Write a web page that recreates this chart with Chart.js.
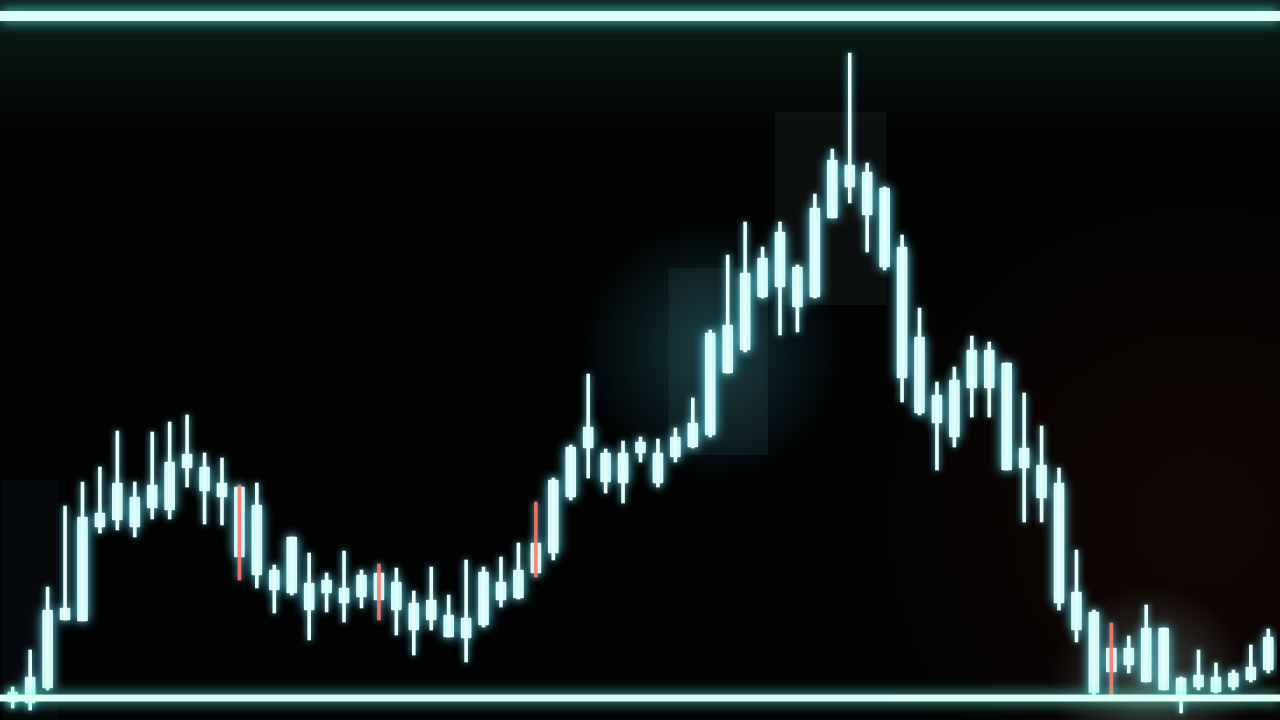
<!DOCTYPE html>
<html>
<head>
<meta charset="utf-8">
<script src="https://cdn.jsdelivr.net/npm/chart.js@4.4.1/dist/chart.umd.min.js"></script>
<style>
    html, body { margin: 0; padding: 0; background: #020303; overflow: hidden; }
    #wrap { width: 1280px; height: 720px; }
</style>
</head>
<body>
<div id="wrap"><canvas id="candles" width="1280" height="720"></canvas></div>
<script>
// Candle values (price units, bottom of frame = 0)
const open  = [18, 17, 32, 112, 99, 193, 200, 223, 212, 210, 252, 253, 237, 233, 215, 150, 127, 137, 127, 132,
               123, 147, 138, 117, 100, 105, 82, 95, 138, 122, 147, 167, 223, 272, 267, 237, 267, 267, 263,
               273, 285, 347, 370, 423, 433, 453, 423, 502, 555, 548, 532, 473, 383, 325, 283, 332, 370, 357, 272,
               255, 237, 128, 108, 48, 72, 38, 92, 25, 33, 43, 33, 40, 50];
const close = [28, 43, 110, 100, 203, 207, 237, 193, 235, 258, 266, 229, 223, 163, 145, 130, 183, 110, 140, 117,
               145, 120, 110, 90, 120, 83, 102, 148, 120, 150, 177, 240, 273, 293, 238, 267, 278, 237, 283,
               297, 387, 395, 447, 462, 488, 413, 512, 560, 533, 505, 453, 342, 307, 297, 340, 370, 332, 250, 252,
               222, 117, 90, 27, 72, 55, 92, 30, 42, 45, 28, 47, 53, 83];
const high  = [33, 70, 133, 214, 238, 253, 289, 238, 288, 298, 305, 267, 262, 235, 237, 155, 183, 167, 147, 169,
               150, 156, 152, 129, 153, 125, 160, 153, 163, 177, 218, 242, 275, 346, 271, 279, 283, 281, 292,
               322, 390, 465, 498, 473, 498, 455, 526, 571, 667, 557, 533, 485, 412, 338, 353, 384, 378, 357, 327,
               294, 252, 170, 110, 97, 84, 115, 92, 43, 70, 57, 50, 75, 91];
const low   = [12, 10, 30, 100, 99, 187, 190, 183, 201, 201, 233, 196, 195, 140, 132, 107, 125, 80, 108, 98,
               112, 100, 85, 65, 90, 83, 58, 93, 113, 121, 143, 160, 220, 242, 227, 217, 258, 233, 258,
               272, 283, 347, 368, 422, 385, 388, 422, 502, 517, 468, 450, 318, 305, 250, 273, 303, 303, 250, 198,
               198, 110, 78, 25, 25, 47, 38, 30, 7, 30, 27, 30, 38, 47];
const labels = open.map((_, i) => String(i + 1));

// Candles with a red fringe in the picture
const redTinted = [13, 21, 30, 63];

// Glowing rails at top and bottom
const railLevels = [704, 22];
const railWidths = [10, 7];

// Faint highlight boxes (category range, price range)
const boxes = [
    { from: -0.6, to: 2.6, low: 0, high: 240, color: 'rgba(90, 140, 170, 0.05)' },
    { from: 37.6, to: 43.3, low: 265, high: 452, color: 'rgba(120, 190, 200, 0.08)' },
    { from: 43.7, to: 50.1, low: 415, high: 608, color: 'rgba(150, 190, 180, 0.07)' }
];

const bodyColor = '#f2fffc';
const wickColor = '#e6fdf8';

const glowPlugin = {
    id: 'glow',
    beforeDraw(chart) {
        const ctx = chart.ctx;
        const w = chart.width, h = chart.height;
        ctx.save();
        ctx.fillStyle = '#020303';
        ctx.fillRect(0, 0, w, h);

        // greenish haze under the top rail
        let g = ctx.createLinearGradient(0, 0, 0, 130);
        g.addColorStop(0, 'rgba(20, 60, 45, 0.5)');
        g.addColorStop(1, 'rgba(20, 60, 45, 0)');
        ctx.fillStyle = g;
        ctx.fillRect(0, 0, w, 130);

        // faint warm haze bottom right
        g = ctx.createRadialGradient(1200, 520, 20, 1200, 520, 360);
        g.addColorStop(0, 'rgba(30, 10, 4, 0.55)');
        g.addColorStop(1, 'rgba(30, 10, 4, 0)');
        ctx.fillStyle = g;
        ctx.fillRect(0, 0, w, h);

        // cyan haze behind the rally
        g = ctx.createRadialGradient(712, 350, 10, 712, 350, 130);
        g.addColorStop(0, 'rgba(50, 150, 170, 0.3)');
        g.addColorStop(1, 'rgba(50, 150, 170, 0)');
        ctx.fillStyle = g;
        ctx.fillRect(0, 0, w, h);

        // white haze at the bottom right cluster
        g = ctx.createRadialGradient(1150, 685, 5, 1150, 685, 100);
        g.addColorStop(0, 'rgba(200, 255, 245, 0.24)');
        g.addColorStop(1, 'rgba(200, 255, 245, 0)');
        ctx.fillStyle = g;
        ctx.fillRect(0, 0, w, h);

        const x = chart.scales.x, y = chart.scales.y;
        boxes.forEach(b => {
            const x0 = x.getPixelForValue(b.from), x1 = x.getPixelForValue(b.to);
            const y0 = y.getPixelForValue(b.high), y1 = y.getPixelForValue(b.low);
            ctx.fillStyle = b.color;
            ctx.fillRect(x0, y0, x1 - x0, y1 - y0);
        });
        ctx.restore();
    },
    beforeDatasetDraw(chart, args) {
        const ctx = chart.ctx;
        ctx.save();
        ctx.shadowColor = 'rgba(110, 235, 255, 0.9)';
        ctx.shadowBlur = args.index === 1 ? 12 : 7;
    },
    afterDatasetDraw(chart) {
        chart.ctx.restore();
    },
    afterDatasetsDraw(chart) {
        const ctx = chart.ctx;
        const y = chart.scales.y;
        ctx.save();
        railLevels.forEach((v, i) => {
            const py = y.getPixelForValue(v);
            ctx.shadowColor = 'rgba(90, 255, 225, 0.9)';
            ctx.shadowBlur = 14;
            ctx.strokeStyle = '#dcfff6';
            ctx.lineWidth = railWidths[i];
            ctx.beginPath();
            ctx.moveTo(0, py);
            ctx.lineTo(chart.width, py);
            ctx.stroke();
        });
        ctx.restore();
    }
};

const wickData = high.map((hv, i) => [low[i], hv]);
const bodyData = open.map((o, i) => [Math.min(o, close[i]), Math.max(o, close[i])]);

new Chart(document.getElementById('candles').getContext('2d'), {
    type: 'bar',
    data: {
        labels: labels,
        datasets: [
            {
                label: 'wick',
                data: wickData,
                backgroundColor: labels.map((_, i) => redTinted.includes(i) ? 'rgba(255, 120, 105, 0.9)' : wickColor),
                barThickness: 3,
                grouped: false,
                borderSkipped: false
            },
            {
                label: 'body',
                data: bodyData,
                backgroundColor: bodyColor,
                barThickness: 10,
                grouped: false,
                borderSkipped: false,
                borderRadius: 1
            }
        ]
    },
    options: {
        responsive: false,
        animation: false,
        layout: { padding: { left: 4, right: 3, top: 0, bottom: 0 } },
        plugins: {
            legend: { display: false },
            tooltip: { enabled: false }
        },
        scales: {
            x: { display: false, offset: true },
            y: { display: false, min: 0, max: 720 }
        }
    },
    plugins: [glowPlugin]
});
</script>
</body>
</html>
